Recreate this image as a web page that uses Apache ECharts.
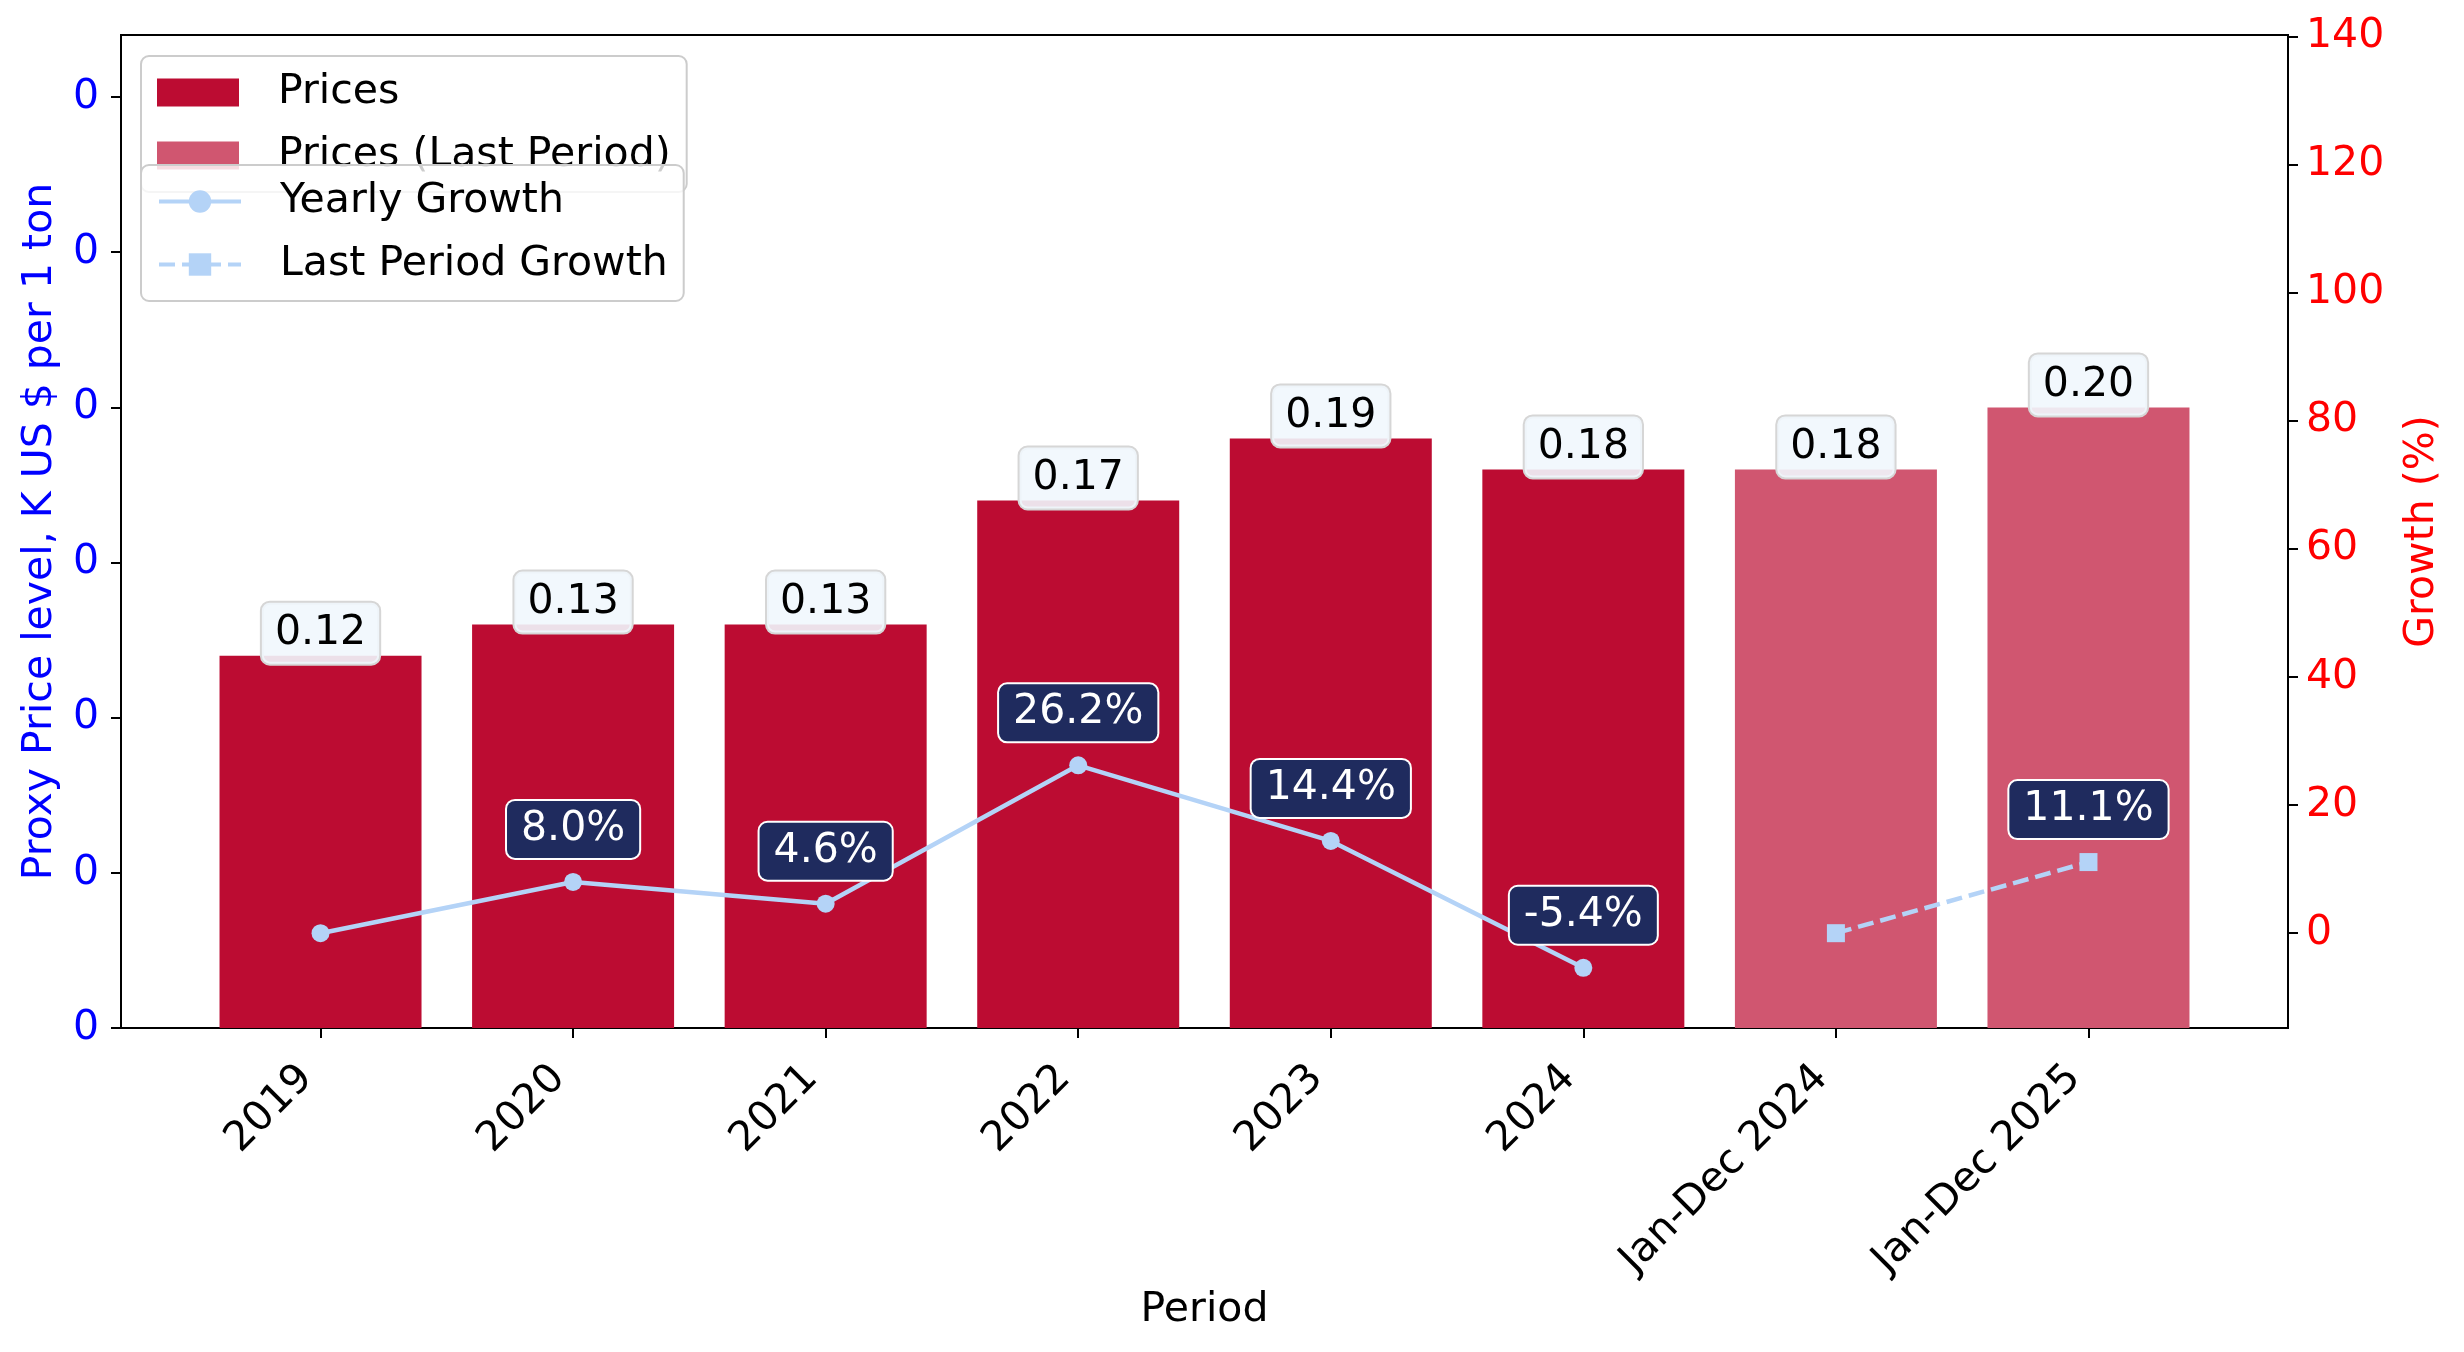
<!DOCTYPE html>
<html>
<head>
<meta charset="utf-8">
<script src="https://cdn.jsdelivr.net/npm/echarts@6/dist/echarts.min.js"></script>
<style>
html, body { margin: 0; padding: 0; background: #fff; }
#chart { width: 2464px; height: 1352px; }
</style>
</head>
<body>
<div id="chart"></div>
<script>
// data
const categories = ['2019', '2020', '2021', '2022', '2023', '2024', 'Jan-Dec 2024', 'Jan-Dec 2025'];
const prices = [0.12, 0.13, 0.13, 0.17, 0.19, 0.18, null, null];
const pricesLast = [null, null, null, null, null, null, 0.18, 0.20];
const yearlyGrowth = [0, 8.0, 4.6, 26.2, 14.4, -5.4, null, null];
const lastGrowth = [null, null, null, null, null, null, 0, 11.1];
const priceTicks = [0, 0.05, 0.1, 0.15, 0.2, 0.25, 0.3];
const growthTicks = [0, 20, 40, 60, 80, 100, 120, 140];

const FONT = 'DejaVu Sans';
const FS = 41;
const catTicks = categories.map((c, i) => i);

// keep only the points that exist, as [x, y]
function pts(arr) {
  let out = [];
  arr.forEach((v, i) => { if (v !== null) out.push([i, v]); });
  return out;
}

function growthPts(arr) {
  return pts(arr).map(p => ({ value: p, label: { show: p[1] !== 0 } }));
}

const barLabel = {
  show: true,
  position: 'top',
  distance: 0,
  offset: [0, 8],
  formatter: p => p.value[1].toFixed(2),
  fontFamily: FONT,
  fontSize: FS,
  color: '#000',
  backgroundColor: 'rgba(241,247,253,0.9)',
  borderColor: '#d6d6d6',
  borderWidth: 2,
  borderRadius: 8,
  padding: [10, 13]
};

const growthLabel = {
  show: true,
  position: 'top',
  distance: 15,
  formatter: p => p.value[1].toFixed(1) + '%',
  fontFamily: FONT,
  fontSize: FS,
  color: '#fff',
  backgroundColor: '#1f2b5e',
  borderColor: '#ffffff',
  borderWidth: 2,
  borderRadius: 8,
  padding: [8, 14]
};

const legendBase = {
  orient: 'vertical',
  left: 141,
  padding: 16,
  itemGap: 22,
  itemWidth: 82,
  itemHeight: 28,
  backgroundColor: 'rgba(255,255,255,0.8)',
  borderColor: '#cccccc',
  borderWidth: 2,
  borderRadius: 8,
  textStyle: { fontFamily: FONT, fontSize: FS, color: '#000', padding: [0, 0, 0, 34] }
};

let chart = echarts.init(document.getElementById('chart'));
let option = {
  animation: false,
  backgroundColor: '#fff',
  grid: {
    left: 121, right: 176, top: 35, bottom: 324,
    show: true, borderColor: '#000', borderWidth: 2, backgroundColor: 'transparent'
  },
  legend: [
    Object.assign({}, legendBase, { top: 56, z: 4, icon: 'rect', data: ['Prices', 'Prices (Last Period)'] }),
    Object.assign({}, legendBase, {
      top: 165, z: 5,
      lineStyle: { width: 4 },
      data: ['Yearly Growth', 'Last Period Growth']
    })
  ],
  xAxis: {
    type: 'value',
    min: -0.79,
    max: 7.79,
    name: 'Period',
    nameLocation: 'middle',
    nameGap: 262,
    nameTextStyle: { fontFamily: FONT, fontSize: FS, color: '#000' },
    axisLine: { show: true, onZero: false, lineStyle: { color: '#000', width: 2 } },
    axisTick: { show: true, length: 10, customValues: catTicks, lineStyle: { color: '#000', width: 2 } },
    axisLabel: {
      customValues: catTicks,
      rotate: 45,
      margin: 30,
      padding: [0, 20, 0, 0],
      formatter: v => categories[Math.round(v)],
      fontFamily: FONT, fontSize: FS, color: '#000'
    },
    splitLine: { show: false }
  },
  yAxis: [
    {
      type: 'value',
      position: 'left',
      min: 0,
      max: 0.32,
      name: 'Proxy Price level, K US $ per 1 ton',
      nameLocation: 'middle',
      nameGap: 60,
      nameTextStyle: { fontFamily: FONT, fontSize: FS, color: '#0000ff' },
      axisLine: { show: true, onZero: false, lineStyle: { color: '#000', width: 2 } },
      axisTick: { show: true, length: 10, customValues: priceTicks, lineStyle: { color: '#000', width: 2 } },
      axisLabel: {
        customValues: priceTicks,
        margin: 22,
        formatter: v => v.toFixed(0),
        fontFamily: FONT, fontSize: FS, color: '#0000ff'
      },
      splitLine: { show: false }
    },
    {
      type: 'value',
      position: 'right',
      min: -14.8,
      max: 140.2,
      name: 'Growth (%)',
      nameLocation: 'middle',
      nameGap: 114,
      nameTextStyle: { fontFamily: FONT, fontSize: FS, color: '#ff0000' },
      axisLine: { show: true, onZero: false, lineStyle: { color: '#000', width: 2 } },
      axisTick: { show: true, length: 10, customValues: growthTicks, lineStyle: { color: '#000', width: 2 } },
      axisLabel: {
        customValues: growthTicks,
        margin: 18,
        fontFamily: FONT, fontSize: FS, color: '#ff0000'
      },
      splitLine: { show: false }
    }
  ],
  series: [
    {
      name: 'Prices',
      type: 'bar',
      yAxisIndex: 0,
      barWidth: 202,
      barGap: '-100%',
      itemStyle: { color: '#bc0c32' },
      label: barLabel,
      data: pts(prices)
    },
    {
      name: 'Prices (Last Period)',
      type: 'bar',
      yAxisIndex: 0,
      barWidth: 202,
      barGap: '-100%',
      itemStyle: { color: '#d05670' },
      label: barLabel,
      data: pts(pricesLast)
    },
    {
      name: 'Yearly Growth',
      type: 'line',
      yAxisIndex: 1,
      z: 10,
      symbol: 'circle',
      symbolSize: 18,
      lineStyle: { color: '#b4d3f7', width: 4.5 },
      itemStyle: { color: '#b4d3f7' },
      label: growthLabel,
      data: growthPts(yearlyGrowth)
    },
    {
      name: 'Last Period Growth',
      type: 'line',
      yAxisIndex: 1,
      z: 10,
      symbol: 'rect',
      symbolSize: 18,
      lineStyle: { color: '#b4d3f7', width: 4.5, type: [16, 7] },
      itemStyle: { color: '#b4d3f7' },
      label: growthLabel,
      data: growthPts(lastGrowth)
    }
  ]
};
chart.setOption(option);
</script>
</body>
</html>
